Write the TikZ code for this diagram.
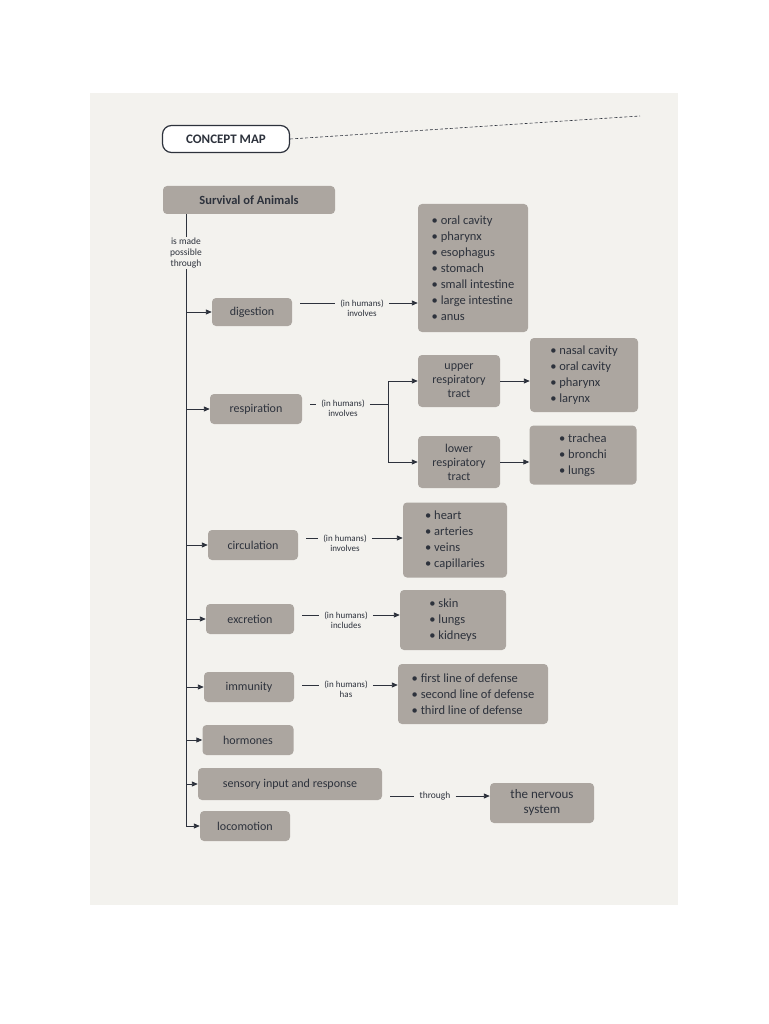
\documentclass[tikz,border=0pt]{standalone}
\usepackage{fontspec}
\setmainfont{Carlito}
\usetikzlibrary{arrows.meta}
\definecolor{pg}{RGB}{243,242,238}
\definecolor{bx}{RGB}{172,166,160}
\definecolor{ln}{RGB}{45,50,60}
\tikzset{
 gbox/.style={fill=bx,rounded corners=4pt,inner sep=3pt,text=ln,font=\fontsize{12}{14}\selectfont,align=center},
 lbox/.style={fill=bx,rounded corners=4pt,inner sep=5pt,text=ln,font=\fontsize{12.5}{16}\selectfont,align=left},
 lab/.style={text=ln,font=\fontsize{9}{10}\selectfont,align=center,inner sep=1pt},
 con/.style={draw=ln,line width=0.9pt},
 arr/.style={con,-{Triangle[length=6pt,width=5pt]}},
 tolab/.style={con,shorten >=4pt,shorten <=8pt},
 fromlab/.style={arr,shorten <=4pt}
}
\begin{document}
\begin{tikzpicture}[x=1pt,y=-1pt]
\useasboundingbox (0,0) rectangle (768,1024);
\fill[white] (0,0) rectangle (768,1024);
\fill[pg] (90,93) rectangle (678,905);
% header
\node[draw=ln,line width=1.2pt,rounded corners=9pt,fill=white,minimum width=127,minimum height=27,font=\bfseries\fontsize{13}{15}\selectfont,text=ln] (cm) at (226,139) {CONCEPT MAP};
\coordinate (cme) at (640,116);
\draw[ln,densely dashed,line width=0.6pt] (cm.east) -- (cme);
\node[gbox,font=\bfseries\fontsize{12.5}{14}\selectfont,minimum width=172,minimum height=28] (root) at (249,200) {Survival of Animals};
\node[lab,font=\fontsize{9.5}{11}\selectfont,fill=pg] (made) at (186,253) {is made\\possible\\through};
\coordinate (top) at (186,214);
\coordinate (bot) at (186,826);
\draw[con] (root.south -| top) -- (made.north);
\draw[con] (made.south) -- (bot);
% branch nodes
\node[gbox,minimum width=80,minimum height=28] (dig) at (252,312) {digestion};
\node[gbox,minimum width=92,minimum height=30] (res) at (256,409) {respiration};
\node[gbox,minimum width=90,minimum height=30] (cir) at (253,545) {circulation};
\node[gbox,minimum width=88,minimum height=30] (exc) at (250,619) {excretion};
\node[gbox,minimum width=90,minimum height=30] (imm) at (249,687) {immunity};
\node[gbox,minimum width=91,minimum height=30] (hor) at (248,740) {hormones};
\node[gbox,minimum width=184,minimum height=32] (sen) at (290,784) {sensory input and response};
\node[gbox,minimum width=90,minimum height=30] (loc) at (245,826) {locomotion};
\foreach \n in {dig,res,cir,exc,imm,hor,sen,loc}{\draw[arr] (\n.west -| top) -- (\n.west);}
% digestion
\node[lab] (dl) at (362,308) {(in humans)\\involves};
\node[lbox,minimum width=110,minimum height=128] (dlist) at (473,268) {• oral cavity\\• pharynx\\• esophagus\\• stomach\\• small intestine\\• large intestine\\• anus};
\draw[tolab] (dig.east |- 0,303) -- (dl.west |- 0,303);
\draw[fromlab] (dl.east |- 0,303) -- (dlist.west |- 0,303);
% respiration
\node[lab] (rl) at (343,408) {(in humans)\\involves};
\node[gbox,minimum width=82,minimum height=52] (up) at (459,381) {upper\\respiratory\\tract};
\node[gbox,minimum width=82,minimum height=52] (lo) at (459,462) {lower\\respiratory\\tract};
\node[lbox,minimum width=108,minimum height=74] (ulist) at (584,375) {• nasal cavity\\• oral cavity\\• pharynx\\• larynx};
\node[lbox,minimum width=107,minimum height=59] (llist) at (583,455) {• trachea\\• bronchi\\• lungs};
\coordinate (fork) at (388,404);
\draw[tolab] (res.east |- fork) -- (rl.west |- fork);
\draw[con,shorten <=4pt] (rl.east |- fork) -- (fork);
\draw[con] (up.west -| fork) -- (lo.west -| fork);
\draw[arr] (up.west -| fork) -- (up.west);
\draw[arr] (lo.west -| fork) -- (lo.west);
\draw[arr] (up.east) -- (ulist.west |- up.east);
\draw[arr] (lo.east) -- (llist.west |- lo.east);
% circulation
\node[lab] (cl) at (345,543) {(in humans)\\involves};
\node[lbox,minimum width=104,minimum height=75] (clist) at (455,540) {• heart\\• arteries\\• veins\\• capillaries};
\draw[tolab] (cir.east |- 0,538) -- (cl.west |- 0,538);
\draw[fromlab] (cl.east |- 0,538) -- (clist.west |- 0,538);
% excretion
\node[lab] (el) at (346,620) {(in humans)\\includes};
\node[lbox,minimum width=106,minimum height=60] (elist) at (453,620) {• skin\\• lungs\\• kidneys};
\draw[tolab] (exc.east |- 0,615) -- (el.west |- 0,615);
\draw[fromlab] (el.east |- 0,615) -- (elist.west |- 0,615);
% immunity
\node[lab] (il) at (346,689) {(in humans)\\has};
\node[lbox,minimum width=150,minimum height=60] (ilist) at (473,694) {• first line of defense\\• second line of defense\\• third line of defense};
\draw[tolab] (imm.east |- 0,685) -- (il.west |- 0,685);
\draw[fromlab] (il.east |- 0,685) -- (ilist.west |- 0,685);
% sensory
\node[lab,font=\fontsize{9.5}{11}\selectfont] (tl) at (435,796) {through};
\node[gbox,font=\fontsize{13}{15}\selectfont,minimum width=104,minimum height=40] (ns) at (542,803) {the nervous\\system};
\draw[tolab] (sen.east |- tl) -- (tl.west);
\draw[fromlab] (tl.east) -- (ns.west |- tl.east);
\end{tikzpicture}
\end{document}
